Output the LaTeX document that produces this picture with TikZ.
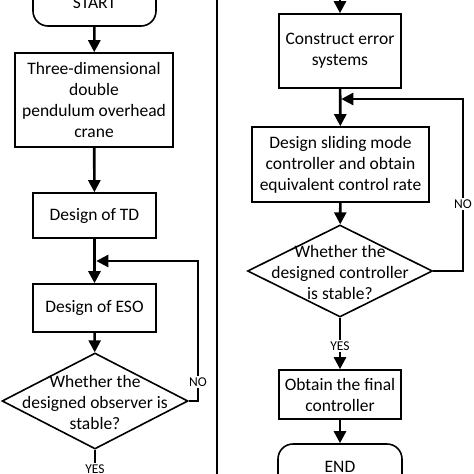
\documentclass[tikz,border=0pt]{standalone}
\usepackage{fontspec}
\setmainfont{Carlito}
\usetikzlibrary{positioning,shapes.geometric,arrows.meta}
\tikzset{>={Triangle[width=12pt,length=12pt]}}

\begin{document}
\begin{tikzpicture}[x=1pt,y=-1pt,font=\fontsize{17.5}{21}\selectfont,
  box/.style={draw,line width=1.6pt,align=center,inner sep=0pt},
  term/.style={box,rounded corners=15pt},
  decision/.style={draw,diamond,line width=1.6pt,inner sep=0pt},
  flow/.style={->,line width=2.6pt},
  wire/.style={line width=2.6pt},
  tag/.style={fill=white,inner sep=1.5pt,font=\fontsize{13.5}{15}\selectfont}]
\useasboundingbox (0,0) rectangle (474,474);
\draw[line width=2pt] (217,-5) coordinate (divtop) -- (217,480) coordinate (divbot);
\node[term,minimum width=123pt,minimum height=46pt] (start) at (94.5,3) {START};
\node[box,minimum width=158pt,minimum height=94pt] (crane) at (94,100) {Three-dimensional\\double\\pendulum overhead\\crane};
\node[box,minimum width=123pt,minimum height=45pt] (td) at (94.5,215.5) {Design of TD};
\node[box,minimum width=123pt,minimum height=48pt] (eso) at (94.5,308) {Design of ESO};
\node[decision,minimum width=186pt,minimum height=96pt] (obs) at (95,401) {};
\node[align=center] (obstext) at (95,402) {Whether the\\designed observer is\\stable?};
\coordinate (intop) at (340,-12);
\node[box,minimum width=122pt,minimum height=74pt] (construct) at (340,51) {Construct error\\systems};
\node[box,minimum width=177pt,minimum height=75pt] (smc) at (340.5,164.5) {Design sliding mode\\controller and obtain\\equivalent control rate};
\node[decision,minimum width=185pt,minimum height=92pt] (ctrl) at (340,271) {};
\node[align=center] (ctrltext) at (340,272) {Whether the\\designed controller\\is stable?};
\node[box,minimum width=122pt,minimum height=49pt] (final) at (340,394.5) {Obtain the final\\controller};
\node[term,minimum width=124pt,minimum height=46pt] (end) at (340,467) {END};
\draw[flow] (start) -- (crane);
\draw[flow] (crane) -- (td);
\draw[flow] (td) -- (eso);
\draw[flow] (eso) -- (obs);
\coordinate (obsturn) at (198,401);
\coordinate (obsup) at (198,261);
\coordinate (obsjoin) at (95,261);
\draw[flow,shorten >=1.3pt] (obs.east) -- (obsturn) -- (obsup) -- (obsjoin);
\coordinate (obsout) at (95,490);
\draw[wire] (obs.south) -- (obsout);
\node[tag] (no1) at (198,382) {NO};
\node[tag] (yes1) at (95,469) {YES};
\draw[flow] (intop) -- (construct);
\draw[flow] (construct) -- (smc);
\draw[flow] (smc) -- (ctrl);
\coordinate (ctrlturn) at (463,271);
\coordinate (ctrlup) at (463,99);
\coordinate (ctrljoin) at (340,99);
\draw[flow,shorten >=1.3pt] (ctrl.east) -- (ctrlturn) -- (ctrlup) -- (ctrljoin);
\draw[flow] (ctrl) -- (final);
\draw[flow] (final) -- (end);
\node[tag] (no2) at (463,204) {NO};
\node[tag] (yes2) at (340,346) {YES};
\end{tikzpicture}
\end{document}
